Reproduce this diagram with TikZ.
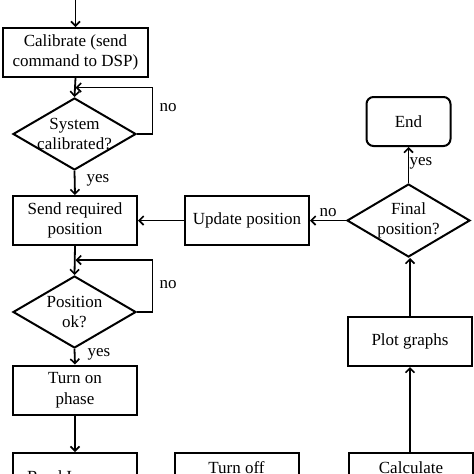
\documentclass[tikz,border=0pt]{standalone}
\usepackage{fontspec}
\setmainfont{Liberation Serif}
\usetikzlibrary{shapes.geometric,arrows.meta}
\begin{document}
\begin{tikzpicture}[x=1pt,y=-1pt,
  font=\fontsize{17}{20.5}\selectfont,
  box/.style={draw,line width=2pt,inner sep=0pt,minimum width=124pt,minimum height=49pt,align=center},
  endbox/.style={box,rounded corners=7pt,minimum width=84pt},
  dia/.style={draw,line width=2pt,shape=diamond,inner sep=0pt,aspect=1.7,minimum width=123pt,minimum height=72pt},
  lbl/.style={align=center,inner sep=0pt},
  flow/.style={line width=1.8pt,-{Straight Barb[length=4.5pt,width=9pt,line width=1.6pt]}},
  wire/.style={line width=1.8pt}]
\useasboundingbox[clip] (0,0) rectangle (474,474);
\fill[white] (0,0) rectangle (474,474);

% left column
\coordinate (start) at (75.5,0);
\node[box,minimum width=145pt] (cal) at (75.5,52.5) {Calibrate (send\\command to DSP)};
\node[dia] (d1) at (74.5,134) {};
\node[lbl] at (d1) {System\\calibrated?};
\node[box] (send) at (75,220.5) {Send required\\position};
\node[dia] (d2) at (74.5,312) {};
\node[lbl] at (d2) {Position\\ok?};
\node[box] (ton) at (75,390) {Turn on\\phase};
\node[box,minimum height=60pt] (read) at (75,483) {};
\node[lbl,anchor=base west] at (27,482) {Read I};

% middle column
\node[box] (upd) at (247,220.5) {Update position};
\node[box,minimum height=60pt] (toff) at (236.5,483) {};
\node[lbl,anchor=base] at (toff.center |- 0,473) {Turn off};

% right column
\node[endbox] (end) at (408.5,121.5) {End};
\node[dia,minimum height=73pt] (d3) at (408.5,220.5) {};
\node[lbl] at (d3) {Final\\position?};
\node[box] (plot) at (410,341.5) {Plot graphs};
\node[box,minimum height=60pt] (calc) at (411,483) {};
\node[lbl,anchor=base] at (calc.center |- 0,473.5) {Calculate};

% connectors, left column
\draw[flow] (start) -- (cal.north);
\draw[flow] (cal.south) -- (d1.north);
\coordinate (l1) at (75.5,87.5);
\draw[flow] (d1.east) -| (152.5,87.5) -- (l1);
\node[lbl] at (168,108) {no};
\draw[flow] (d1.south) -- (send.north);
\node[lbl] at (98,180) {yes};
\draw[flow] (send.south) -- (d2.north);
\coordinate (l2) at (75.5,260);
\draw[flow] (d2.east) -| (152.5,260) -- (l2);
\node[lbl] at (168,285) {no};
\draw[flow] (d2.south) -- (ton.north);
\node[lbl] at (99,354) {yes};
\draw[flow] (ton.south) -- (read.north);

% connectors, right column
\draw[flow] (calc.north -| plot.south) -- (plot.south);
\draw[flow] (plot.north) -- (plot.north |- d3.south);
\draw[flow] (d3.north) -- (end.south);
\node[lbl] at (421,163) {yes};
\draw[flow] (d3.west) -- (upd.east);
\node[lbl] at (328,213) {no};
\draw[flow] (upd.west) -- (send.east);
\end{tikzpicture}
\end{document}
